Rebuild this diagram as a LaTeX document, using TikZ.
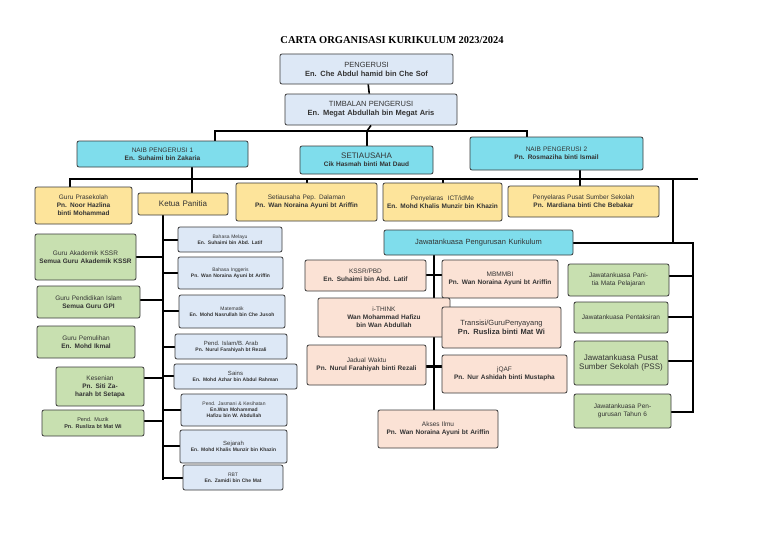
\documentclass[tikz,border=0pt]{standalone}
\usepackage{fontspec}
\setmainfont{Liberation Sans}
\newfontfamily\titlefont{Liberation Serif}
\definecolor{cyanb}{HTML}{7FDDEC}
\definecolor{yel}{HTML}{FDE49B}
\definecolor{grn}{HTML}{C8E0B0}
\definecolor{lblu}{HTML}{DDE8F6}
\definecolor{pch}{HTML}{FBE2D5}
\definecolor{edge}{HTML}{3A3A3A}
\tikzset{
  bx/.style={draw=edge, line width=0.8pt, rounded corners=2pt, inner sep=1pt, align=center, text=black!80},
  ln/.style={line width=1.6pt, black},
}
\newcommand\bx[8]{%
  \pgfmathsetmacro\bcx{(#2+#4)/2}\pgfmathsetmacro\bcy{(#3+#5)/2}%
  \pgfmathsetmacro\bw{#4-#2}\pgfmathsetmacro\bh{#5-#3}\pgfmathsetmacro\tw{#4-#2-6}%
  \node[bx, fill=#6, minimum width=\bw pt, minimum height=\bh pt, text width=\tw pt, font=#7] (#1) at (\bcx,\bcy) {#8};}
\begin{document}
\begin{tikzpicture}[x=1pt,y=-1pt]
\useasboundingbox[fill=white] (0,0) rectangle (768,543);
\node[font=\titlefont\bfseries\fontsize{10.5}{12}\selectfont] (title) at (392,40) {CARTA ORGANISASI KURIKULUM 2023/2024};
% connectors first
\coordinate (h1) at (367,131);
\coordinate (h2) at (367,179);
\coordinate (r1) at (698,179);
\coordinate (kp) at (163,480);
\coordinate (jv) at (693,243);
% boxes
\bx{peng}{280}{54}{453}{84}{lblu}{\fontsize{7.5}{9}\selectfont}{PENGERUSI\\\textbf{En. Che Abdul hamid bin Che Sof}}
\bx{timb}{285}{94}{457}{125}{lblu}{\fontsize{7.5}{9}\selectfont}{TIMBALAN PENGERUSI\\\textbf{En. Megat Abdullah bin Megat Aris}}
\draw[ln] (peng) -- (timb);
\draw[ln] (timb.south) -- (h1);
\draw[ln] (215,141) -- (215,131) -- (527,131) -- (527,137);
\draw[ln] (h1) -- (367,146);
\draw[ln] (192,141) -- (192,179);
\draw[ln] (70,187) -- (70,179) -- (r1);
\draw[ln] (192,179) -- (192,193);
\draw[ln] (580,170) -- (580,186);
\draw[ln] (307,179) -- (307,183);
\draw[ln] (443,179) -- (443,183);
\draw[ln] (673,179) -- (673,243);
\draw[ln] (573,243) -- (jv) -- (693,412) -- (671,412);
\draw[ln] (698,179) -- (698,179);
\draw[ln] (163,215) -- (kp);
\foreach \y/\x in {240/178,273/178,311/179,347/175,376/174,410/181,446/180,478/183} \draw[ln] (163,\y) -- (\x,\y);
\foreach \y/\x in {257/136,300/140,378/144,421/144} \draw[ln] (163,\y) -- (\x,\y);
\draw[ln] (434,255) -- (434,410);
\draw[ln] (426,275) -- (442,275);
\draw[line width=3pt] (426,366) -- (442,366);
\foreach \y/\x in {276/669,317/668,361/665} \draw[ln] (\x,\y) -- (693,\y);
\bx{np1}{77}{141}{248}{167}{cyanb}{\fontsize{6.5}{8}\selectfont}{NAIB PENGERUSI 1\\\textbf{En. Suhaimi bin Zakaria}}
\bx{np2}{470}{137}{643}{170}{cyanb}{\fontsize{6.5}{8}\selectfont}{NAIB PENGERUSI 2\\\textbf{Pn. Rosmaziha binti Ismail}}
\bx{setia}{300}{146}{433}{174}{cyanb}{\fontsize{6.5}{8}\selectfont}{{\fontsize{8}{9}\selectfont SETIAUSAHA}\\\textbf{Cik Hasmah binti Mat Daud}}
% yellow row
\bx{pras}{35}{187}{132}{224}{yel}{\fontsize{6.5}{8}\selectfont}{Guru Prasekolah\\\textbf{Pn. Noor Hazlina binti Mohammad}}
\bx{ketua}{138}{193}{228}{215}{yel}{\fontsize{8}{9}\selectfont}{Ketua Panitia}
\bx{spd}{236}{183}{377}{221}{yel}{\fontsize{6.5}{8}\selectfont}{Setiausaha Pep. Dalaman\\\textbf{Pn. Wan Noraina Ayuni bt Ariffin}\\[4pt]}
\bx{ict}{383}{183}{502}{221}{yel}{\fontsize{6.5}{8}\selectfont}{Penyelaras \ ICT/idMe\\\textbf{En. Mohd Khalis Munzir bin Khazin}}
\bx{pss}{508}{186}{659}{217}{yel}{\fontsize{6.5}{8}\selectfont}{Penyelaras Pusat Sumber Sekolah\\\textbf{Pn. Mardiana binti Che Bebakar}}
% blue panitia
\bx{bm}{178}{227}{282}{252}{lblu}{\fontsize{5}{6}\selectfont}{Bahasa Melayu\\\textbf{En. Suhaimi bin Abd. Latif}}
\bx{bi}{178}{257}{283}{289}{lblu}{\fontsize{5}{6}\selectfont}{Bahasa Inggeris\\\textbf{Pn. Wan Noraina Ayuni bt Ariffin}}
\bx{mt}{179}{295}{285}{328}{lblu}{\fontsize{5}{6}\selectfont}{Matematik\\\textbf{En. Mohd Nasrullah bin Che Jusoh}}
\bx{pi}{175}{334}{287}{359}{lblu}{\fontsize{5}{6}\selectfont}{{\fontsize{6}{7}\selectfont Pend. Islam/B. Arab}\\\textbf{Pn. Nurul Farahiyah bt Rezali}}
\bx{sn}{174}{364}{297}{389}{lblu}{\fontsize{5}{6}\selectfont}{{\fontsize{6}{7}\selectfont Sains}\\\textbf{En. Mohd Azhar bin Abdul Rahman}}
\bx{pj}{181}{394}{287}{426}{lblu}{\fontsize{5}{6}\selectfont}{Pend. Jasmani \& Kesihatan\\\textbf{En.Wan Mohammad Hafizu bin W. Abdullah}}
\bx{sj}{180}{430}{287}{463}{lblu}{\fontsize{5}{6}\selectfont}{{\fontsize{6}{7}\selectfont Sejarah}\\\textbf{En. Mohd Khalis Munzir bin Khazin}}
\bx{rbt}{183}{465}{283}{490}{lblu}{\fontsize{5}{6}\selectfont}{RBT\\\textbf{En. Zamidi bin Che Mat}}
% green left
\bx{kssr}{35}{234}{136}{280}{grn}{\fontsize{6.5}{8}\selectfont}{Guru Akademik KSSR\\\textbf{Semua Guru Akademik KSSR}\\[6pt]}
\bx{gpi}{37}{286}{140}{318}{grn}{\fontsize{6.5}{8}\selectfont}{Guru Pendidikan Islam\\\textbf{Semua Guru GPI}}
\bx{pem}{37}{326}{135}{358}{grn}{\fontsize{6.5}{8}\selectfont}{Guru Pemulihan\\\textbf{En. Mohd Ikmal}\\[4pt]}
\bx{kes}{56}{367}{144}{406}{grn}{\fontsize{6.5}{8}\selectfont}{Kesenian\\\textbf{Pn. Siti Zaharah bt Setapa}}
\bx{muz}{42}{410}{144}{436}{grn}{\fontsize{5.5}{7}\selectfont}{Pend. Muzik\\\textbf{Pn. Rusliza bt Mat Wi}\\[2pt]}
% JPK
\bx{jpk}{384}{230}{573}{255}{cyanb}{\fontsize{7.5}{9}\selectfont}{Jawatankuasa Pengurusan Kurikulum}
\bx{kpbd}{305}{260}{426}{291}{pch}{\fontsize{6.5}{8}\selectfont}{KSSR/PBD\\\textbf{En. Suhaimi bin Abd. Latif}}
\bx{mbm}{442}{260}{558}{298}{pch}{\fontsize{6.5}{8}\selectfont}{MBMMBI\\\textbf{Pn. Wan Noraina Ayuni bt Ariffin}}
\bx{ith}{318}{298}{450}{337}{pch}{\fontsize{6.5}{8}\selectfont}{i-THINK\\\textbf{Wan Mohammad Hafizu bin Wan Abdullah}}
\bx{trn}{442}{307}{561}{348}{pch}{\fontsize{7.5}{9}\selectfont}{Transisi/GuruPenyayang\\\textbf{Pn. Rusliza binti Mat Wi}}
\bx{jw}{307}{345}{426}{385}{pch}{\fontsize{6.5}{8}\selectfont}{Jadual Waktu\\\textbf{Pn. Nurul Farahiyah binti Rezali}}
\bx{jq}{442}{355}{567}{393}{pch}{\fontsize{6.5}{8}\selectfont}{jQAF\\\textbf{Pn. Nur Ashidah binti Mustapha}}
\bx{ak}{378}{410}{498}{448}{pch}{\fontsize{6.5}{8}\selectfont}{Akses Ilmu\\\textbf{Pn. Wan Noraina Ayuni bt Ariffin}}
% green right
\bx{jp}{568}{264}{669}{296}{grn}{\fontsize{6.5}{8}\selectfont}{Jawatankuasa Panitia Mata Pelajaran}
\bx{jt}{574}{302}{668}{333}{grn}{\fontsize{6.5}{8}\selectfont}{Jawatankuasa Pentaksiran}
\bx{jps}{574}{341}{668}{385}{grn}{\fontsize{8}{9}\selectfont}{Jawatankuasa Pusat Sumber Sekolah (PSS)}
\bx{j6}{574}{394}{671}{428}{grn}{\fontsize{6.5}{8}\selectfont}{Jawatankuasa Pengurusan Tahun 6}
\end{tikzpicture}
\end{document}
